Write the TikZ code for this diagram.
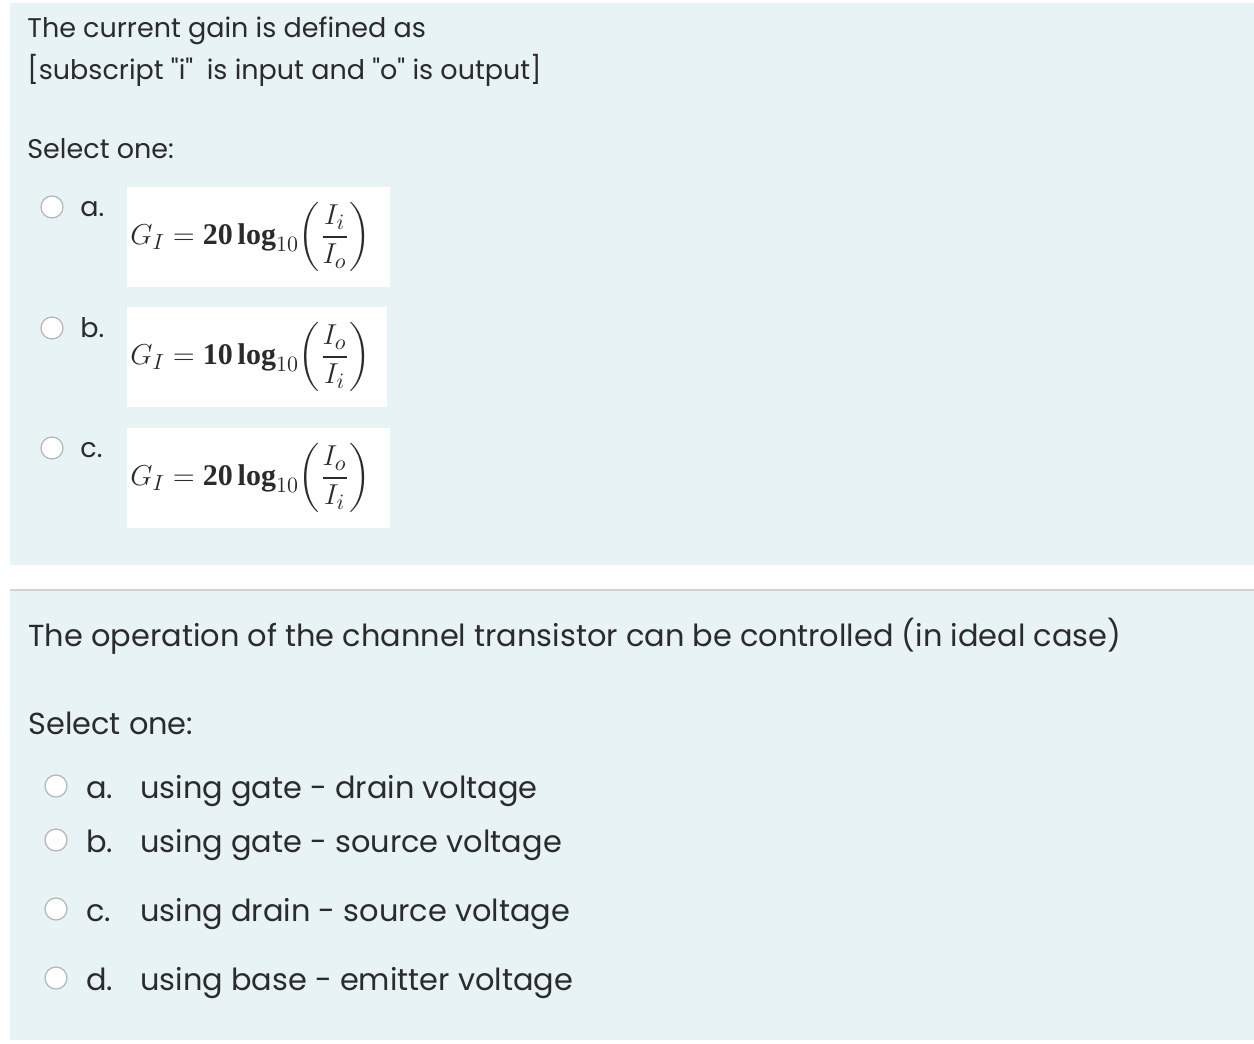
\documentclass[tikz,border=0pt]{standalone}
\usepackage{amsmath}
\usepackage{fontspec}
\setmainfont{Poppins}
\newfontfamily\tms{Liberation Serif}
\definecolor{panel}{HTML}{E7F3F5}
\definecolor{txt}{HTML}{2B2B2B}
\definecolor{ring}{HTML}{B5B5B5}
\newcommand{\lgb}{\text{\tms\bfseries log}}
\newcommand{\qd}{\textquotedbl}
\tikzset{
 q/.style={anchor=base west,inner sep=0,text=txt,font=\fontsize{13.5}{16}\selectfont},
 q2/.style={anchor=base west,inner sep=0,text=txt,font=\fontsize{15.2}{18}\selectfont},
 radio/.style={circle,draw=ring,fill=white,line width=0.6pt,minimum size=11pt,inner sep=0},
 fm/.style={anchor=west,inner sep=0,text=txt,font=\fontsize{15}{17}\selectfont}
}
\begin{document}
\begin{tikzpicture}[x=0.5pt,y=-0.5pt]
\useasboundingbox (0,0) rectangle (1254,1044);
\fill[white] (0,0) rectangle (1254,1044);
\fill[panel] (10,3) rectangle (1254,565);
\fill[panel] (10,590) rectangle (1254,1040);
\draw[ring!60,line width=0.6pt] (10,590) -- (1254,590);
\node[q] (t1) at (27,37) {The current gain is defined as};
\node[q] (t2) at (27,79) {[subscript \qd i\qd\enspace is input and \qd o\qd\ is output]};
\node[q] (s1) at (27,158) {Select one:};
% option a
\node[radio] (ra) at (52,207) {};
\node[q] (la) at (80,216) {a.};
\fill[white] (127,187) rectangle (390,287);
\node[fm] (fa) at (130,237) {$G_I = \text{\tms\bfseries 20}\,\lgb_{10}\!\left(\dfrac{I_i}{I_o}\right)$};
% option b
\node[radio] (rb) at (52,328) {};
\node[q] (lb) at (80,337) {b.};
\fill[white] (127,307) rectangle (387,407);
\node[fm] (fb) at (130,357) {$G_I = \text{\tms\bfseries 10}\,\lgb_{10}\!\left(\dfrac{I_o}{I_i}\right)$};
% option c
\node[radio] (rc) at (52,448) {};
\node[q] (lc) at (80,457) {c.};
\fill[white] (127,428) rectangle (390,528);
\node[fm] (fc) at (130,478) {$G_I = \text{\tms\bfseries 20}\,\lgb_{10}\!\left(\dfrac{I_o}{I_i}\right)$};
% second question
\node[q2] (t3) at (28,646) {The operation of the channel transistor can be controlled (in ideal case)};
\node[q2] (s2) at (28,734) {Select one:};
\node[radio] (r1) at (56,786) {};
\node[q2] (l1) at (86,798) {a.};
\node[q2] (o1) at (140,798) {using gate - drain voltage};
\node[radio] (r2) at (56,840) {};
\node[q2] (l2) at (86,852) {b.};
\node[q2] (o2) at (140,852) {using gate - source voltage};
\node[radio] (r3) at (56,909) {};
\node[q2] (l3) at (86,921) {c.};
\node[q2] (o3) at (140,921) {using drain - source voltage};
\node[radio] (r4) at (56,978) {};
\node[q2] (l4) at (86,990) {d.};
\node[q2] (o4) at (140,990) {using base - emitter voltage};
\end{tikzpicture}
\end{document}
